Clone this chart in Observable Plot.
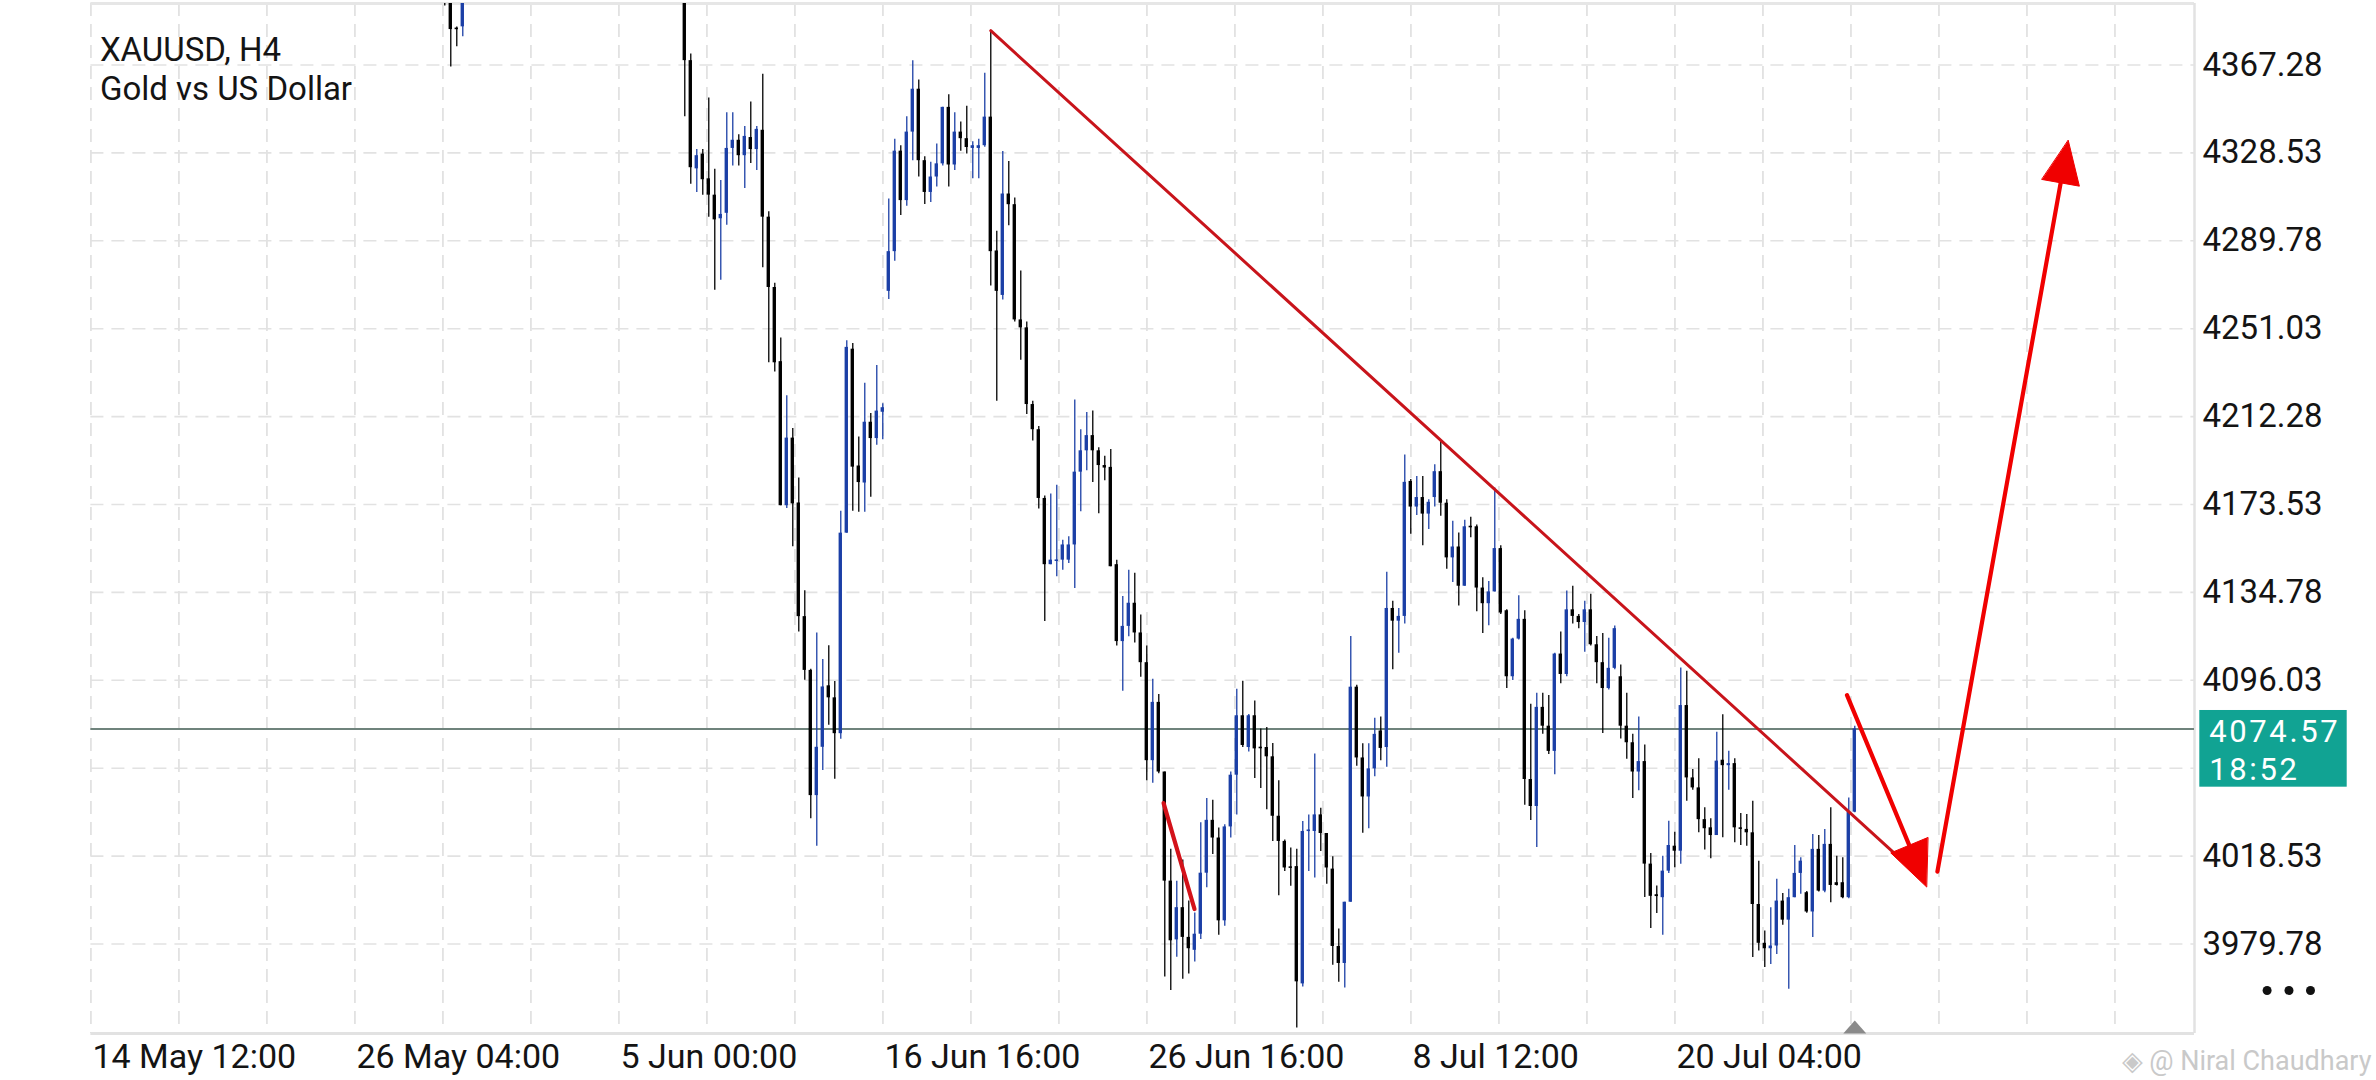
<!DOCTYPE html>
<html><head><meta charset="utf-8">
<script src="https://cdn.jsdelivr.net/npm/d3@7"></script>
<script src="https://cdn.jsdelivr.net/npm/@observablehq/plot@0.6"></script>
<style>
html,body{margin:0;padding:0;background:#fff;overflow:hidden;}
#chart svg{display:block;}
g[aria-label="price-label"] text{letter-spacing:2.2px;}
g[aria-label="time-label"] text{letter-spacing:1.6px;}
</style></head><body><div id="chart"></div>
<script>
// ---------- data ----------
const symbolTitle = "XAUUSD, H4";
const symbolName = "Gold vs US Dollar";
const firstBar = 0;
const opens = [4398,4369.2,4321.5,4328.0,4317.1,4309.9,4299.5,4301.9,4330.5,4334.1,
4327.3,4335.3,4330.0,4338.5,4300.2,4269.2,4236.5,4173.0,4202.8,4174.2,
4124.1,4100.4,4045.2,4066.5,4093.6,4088.3,4072.5,4160.9,4242.0,4190.5,
4183.0,4209.8,4202.6,4214.2,4267.5,4285.0,4329.3,4307.5,4337.7,4356.6,
4325.1,4311.1,4317.9,4323.7,4348.6,4323.2,4337.7,4334.8,4330.5,4330.5,
4331.7,4344.3,4285.3,4265.7,4310.4,4305.7,4254.9,4251.4,4217.6,4206.5,
4176.2,4147.0,4148.5,4149.0,4149.0,4155.7,4187.8,4197.2,4203.9,4197.2,
4190.7,4189.9,4147.0,4113.1,4119.8,4130.0,4116.9,4103.8,4060.6,4086.3,
4055.6,4007.5,3981.6,3995.8,3982.7,3977.0,3984.1,4011.0,4034.3,4026.5,
3990.0,4031.4,4054.2,4080.4,4066.4,4080.4,4066.4,4066.4,4062.3,4036.1,
4025.0,4013.6,4013.9,3962.2,4029.4,4029.4,4036.7,4028.5,4012.8,3978.7,
3971.2,3998.2,4093.0,4061.8,4044.6,4057.0,4073.7,4066.4,4127.7,4122.1,
4124.2,4183.7,4172.4,4176.6,4169.3,4176.6,4188.0,4174.1,4150.0,4154.8,
4137.5,4163.7,4163.7,4136.7,4129.8,4135.0,4154.1,4126.7,4097.6,4114.2,
4122.9,4052.3,4040.4,4084.1,4075.8,4064.7,4107.6,4098.6,4127.1,4124.2,
4121.5,4127.1,4111.7,4103.8,4092.4,4101.3,4097.6,4075.8,4068.5,4055.6,
4060.2,4015.0,4001.5,4000.2,4011.9,4022.9,4020.7,4084.9,4053.0,4048.6,
4034.6,4031.0,4027.6,4060.8,4058.4,4059.3,4031.0,4030.3,4028.8,3997.2,
3980.1,3977.7,3978.9,3998.7,3990.3,4000.2,4010.9,4002.4,3993.9,4021.5,
4003.1,4023.7,4006.8,4006.8,4000.2,4037.9];
const highs = [4402,4372.1,4330.0,4330.0,4352.7,4321.3,4316.4,4346.2,4346.2,4336.5,
4340.2,4351.0,4340.2,4363.2,4302.6,4271.1,4246.9,4221.5,4207.0,4185.2,
4135.5,4100.9,4116.9,4105.2,4111.3,4095.5,4170.6,4245.7,4244.5,4203.3,
4227.0,4213.7,4234.8,4217.9,4308.2,4334.6,4331.7,4344.5,4369.2,4360.7,
4326.8,4324.4,4332.4,4348.6,4354.2,4346.2,4342.1,4349.1,4333.4,4334.6,
4363.6,4382.5,4294.0,4329.1,4324.7,4308.6,4276.5,4254.0,4219.0,4207.9,
4177.3,4178.2,4182.0,4157.8,4159.3,4219.6,4206.5,4214.1,4214.7,4198.6,
4194.8,4197.8,4149.0,4133.0,4144.6,4143.2,4124.8,4111.1,4096.5,4089.8,
4055.6,4021.5,4007.5,4016.8,3998.7,3993.5,4033.2,4043.9,4043.1,4030.9,
4032.3,4055.6,4092.1,4095.6,4081.0,4086.9,4074.6,4075.2,4068.2,4051.8,
4025.6,4022.1,4021.5,4033.8,4036.7,4063.5,4039.6,4028.5,4018.2,3986.4,
3998.2,4115.3,4093.8,4068.1,4068.1,4079.3,4079.9,4143.7,4130.9,4127.7,
4195.3,4184.5,4185.9,4185.9,4175.6,4191.1,4201.9,4175.6,4166.2,4161.0,
4166.6,4167.9,4164.5,4141.2,4139.6,4180.8,4155.4,4127.1,4114.6,4133.3,
4126.7,4085.5,4090.3,4090.3,4089.3,4108.0,4117.3,4135.4,4137.5,4125.0,
4130.9,4134.0,4115.3,4116.7,4114.6,4120.0,4102.8,4090.3,4072.2,4079.9,
4067.5,4019.7,4005.4,4018.5,4033.9,4029.1,4101.5,4100.0,4056.7,4061.4,
4039.8,4035.0,4073.1,4080.9,4064.8,4061.4,4037.3,4036.9,4042.7,4016.3,
3985.5,3995.8,4008.3,4002.1,4003.9,4023.2,4017.8,4002.9,4028.1,4027.6,
4030.3,4039.8,4018.5,4017.8,4044.2,4075.8];
const lows = [4344.5,4314.7,4311.1,4309.9,4300.2,4268.0,4272.4,4296.6,4322.7,4322.7,
4312.8,4323.9,4320.8,4277.9,4236.0,4231.9,4173.0,4171.8,4154.9,4117.3,
4096.0,4035.0,4022.9,4056.3,4076.2,4052.4,4070.1,4160.9,4170.6,4170.1,
4170.1,4176.7,4199.7,4202.1,4263.9,4280.8,4300.9,4305.0,4325.1,4317.9,
4305.8,4306.7,4313.5,4322.7,4313.5,4320.8,4329.3,4328.0,4317.1,4317.1,
4331.0,4269.9,4219.0,4263.7,4296.4,4254.0,4237.1,4213.2,4201.5,4171.5,
4121.9,4147.0,4141.7,4144.6,4147.5,4136.5,4170.3,4188.4,4183.2,4169.4,
4184.0,4146.1,4111.1,4091.2,4115.2,4112.5,4097.4,4051.8,4050.7,4054.8,
3965.2,3959.3,3973.9,3964.3,3966.6,3971.9,3981.8,4004.6,4019.2,3983.6,
3987.6,4026.5,4036.7,4066.4,4064.4,4052.7,4048.3,4039.0,4025.0,4001.1,
4011.8,4005.2,3942.7,3960.8,4011.8,4008.9,4020.6,4006.1,3970.4,3962.9,
3960.4,3998.2,4058.1,4028.6,4030.6,4053.5,4060.6,4057.7,4100.7,4108.0,
4120.9,4160.4,4168.7,4155.4,4162.5,4172.4,4168.3,4145.0,4139.2,4128.8,
4137.5,4158.9,4126.3,4116.7,4120.1,4135.0,4125.0,4092.4,4095.9,4113.8,
4041.0,4034.2,4022.3,4072.2,4063.3,4054.4,4094.5,4097.6,4120.9,4118.8,
4108.4,4111.1,4094.5,4072.6,4091.8,4100.7,4070.2,4061.2,4043.9,4047.3,
4000.3,3986.6,3993.2,3983.6,4010.9,4013.4,4014.9,4042.7,4047.6,4028.8,
4021.2,4017.4,4027.6,4026.6,4047.6,4024.4,4023.2,4022.9,3973.8,3976.7,
3969.4,3970.8,3975.2,3988.0,3959.8,4000.2,4001.7,3993.3,3982.6,4002.7,
4002.4,3998.0,4005.3,3999.7,3999.7,4037.6];
const closes = [4369.2,4322.0,4327.3,4316.7,4309.9,4299.0,4301.4,4330.5,4334.1,4327.3,
4335.8,4330.0,4338.9,4300.2,4269.2,4236.0,4173.0,4202.8,4173.8,4124.1,
4100.4,4045.2,4066.5,4093.1,4088.3,4072.5,4160.9,4242.8,4190.0,4183.2,
4209.8,4202.6,4214.7,4216.2,4285.0,4329.3,4307.5,4337.7,4356.6,4325.1,
4311.1,4317.9,4323.7,4348.6,4323.2,4337.7,4334.8,4330.9,4331.7,4331.7,
4344.3,4285.0,4267.5,4310.4,4305.7,4254.9,4251.4,4217.6,4206.5,4176.2,
4147.0,4149.0,4149.0,4155.7,4155.7,4187.8,4197.2,4203.9,4197.2,4190.7,
4189.6,4146.1,4113.1,4119.8,4130.0,4116.9,4103.8,4060.6,4086.3,4055.6,
4007.5,3981.2,3995.8,3982.7,3977.7,3984.1,4011.0,4034.3,4026.5,3990.0,
4031.4,4054.2,4080.4,4067.3,4080.4,4065.8,4066.0,4062.3,4036.1,4025.0,
4013.3,4013.3,3963.1,4029.4,4030.0,4036.7,4028.5,4013.3,3978.7,3971.2,
3998.2,4093.0,4061.8,4044.6,4057.0,4072.2,4066.0,4127.7,4122.1,4124.2,
4183.3,4172.4,4176.6,4169.3,4174.5,4188.0,4174.1,4150.0,4154.8,4137.5,
4163.7,4163.5,4136.7,4129.8,4135.0,4154.1,4125.7,4097.6,4114.2,4122.9,
4052.3,4040.4,4084.1,4075.8,4064.7,4107.6,4098.6,4127.1,4124.2,4121.5,
4127.1,4111.7,4103.8,4092.4,4101.3,4118.8,4075.8,4068.5,4055.6,4060.2,
4015.0,4000.8,4000.7,4011.9,4023.2,4020.7,4084.9,4053.0,4048.6,4034.6,
4030.6,4027.6,4060.4,4058.4,4059.3,4031.0,4030.3,4028.8,3997.2,3980.1,
3977.7,3978.9,3998.7,3990.3,4000.2,4010.9,4016.3,3993.9,4021.5,4003.1,
4023.7,4005.6,4005.6,4000.2,4037.9,4074.57];
// a few bars far to the left, mostly above the visible range
const earlyFirstBar = -40;
const earlyOpens  = [4398.0, 4400.0, 4383.5, 4384.1];
const earlyHighs  = [4402.0, 4405.0, 4384.0, 4400.0];
const earlyLows   = [4393.3, 4366.4, 4375.3, 4379.7];
const earlyCloses = [4397.0, 4382.9, 4382.9, 4394.4];

const priceTicks = [3979.78,4018.53,4057.28,4096.03,4134.78,4173.53,4212.28,4251.03,4289.78,4328.53,4367.28];
const timeLabels = ["14 May 12:00","26 May 04:00","5 Jun 00:00","16 Jun 16:00","26 Jun 16:00","8 Jul 12:00","20 Jul 04:00"];
const gridStartBar = -98.98, gridStepBars = 14.667, gridCount = 24, labelEvery = 3;
const lastPrice = 4074.57, lastTime = "18:52";
const xDomain = [-98.98, 251.62];
const yDomain = [3940.33, 4394.39];

// drawn annotations (bar index, price)
const trendLine = [{bar: 51.0, price: 4382.4}, {bar: 205.1, price: 4011.4}];
const shortLine = [{bar: 79.8, price: 4041.9}, {bar: 84.95, price: 3995.2}];
const downArrow = {from: {bar: 193.7, price: 4089.5}, to: {bar: 206.95, price: 4005.0}};
const upArrow   = {from: {bar: 208.77, price: 4011.7}, to: {bar: 230.58, price: 4334.0}};
const watermark = "◈ @ Niral Chaudhary";

// ---------- build ----------
const W = 2376, H = 1080, mL = 90.4, mR = 182, mT = 3, mB = 47;
const BLUE = "#1b3fa6", BLACK = "#000000";
function mk(first, o, h, l, c) {
  return o.map((v, i) => {
    const lo = Math.min(v, c[i]), hi = Math.max(v, c[i]);
    const pad = hi - lo < 0.7 ? (0.7 - (hi - lo)) / 2 : 0;
    return {bar: first + i, open: v, high: h[i], low: l[i], close: c[i],
            bLo: lo - pad, bHi: hi + pad, up: c[i] >= v};
  });
}
const candles = mk(firstBar, opens, highs, lows, closes)
  .concat(mk(earlyFirstBar, earlyOpens, earlyHighs, earlyLows, earlyCloses));
const lastBar = firstBar + closes.length - 1;

const sx = Plot.scale({x: {domain: xDomain, range: [mL, W - mR]}});
const sy = Plot.scale({y: {domain: yDomain, range: [H - mB, mT]}});
const toData = ([px, py]) => ({bar: sx.invert(px), price: sy.invert(py)});

function arrowParts(a, len, half) {
  const x0 = sx.apply(a.from.bar), y0 = sy.apply(a.from.price);
  const x1 = sx.apply(a.to.bar), y1 = sy.apply(a.to.price);
  const d = Math.hypot(x1 - x0, y1 - y0), ux = (x1 - x0) / d, uy = (y1 - y0) / d;
  const bx = x1 - ux * len, by = y1 - uy * len;
  const head = [[x1, y1], [bx - uy * half, by + ux * half], [bx + uy * half, by - ux * half]].map(toData);
  const shaft = [[x0, y0], [x1 - ux * len * 0.6, y1 - uy * len * 0.6]].map(toData);
  return {head, shaft};
}
const dA = arrowParts(downArrow, 45, 20);
const uA = arrowParts(upArrow, 43, 19);

const mx = sx.apply(lastBar), myb = H - mB;
const marker = [[mx, myb - 13], [mx - 11.5, myb], [mx + 11.5, myb]].map(toData);

const gridBars = d3.range(gridCount).map(k => gridStartBar + k * gridStepBars);
const timeData = timeLabels.map((t, i) => ({bar: gridStartBar + i * labelEvery * gridStepBars, label: t}));
// the price tag hides the axis label that falls behind it
const shownTicks = priceTicks.filter(t => t > lastPrice + 10 || t < lastPrice - 30);

const GRID = "#e2e2e2";
const plot = Plot.plot({
  width: W, height: H,
  marginLeft: mL, marginRight: mR, marginTop: mT, marginBottom: mB,
  x: {domain: xDomain, axis: null},
  y: {domain: yDomain, axis: null},
  style: {fontFamily: "Roboto, 'Noto Sans', sans-serif", background: "#fff", color: "#141414"},
  marks: [
    Plot.ruleY(priceTicks, {stroke: GRID, strokeWidth: 1.6, strokeDasharray: "13,8"}),
    Plot.ruleX(gridBars, {stroke: GRID, strokeWidth: 1.8, strokeDasharray: "13,8"}),
    Plot.ruleY([yDomain[1]], {stroke: "#e6e6e6", strokeWidth: 3}),
    Plot.ruleY([yDomain[0]], {stroke: "#e2e2e2", strokeWidth: 3}),
    Plot.ruleX([xDomain[1]], {stroke: "#e2e2e2", strokeWidth: 2.5}),
    Plot.ruleY([lastPrice], {stroke: "#6f837c", strokeWidth: 2.2}),
    Plot.ruleX(candles.filter(d => d.up), {x: "bar", y1: "low", y2: "high", stroke: BLUE, strokeWidth: 1.3, clip: true}),
    Plot.ruleX(candles.filter(d => !d.up), {x: "bar", y1: "low", y2: "high", stroke: BLACK, strokeWidth: 1.3, clip: true}),
    Plot.rect(candles.filter(d => d.up), {x1: d => d.bar - 0.28, x2: d => d.bar + 0.28, y1: "bLo", y2: "bHi", fill: BLUE, clip: true}),
    Plot.rect(candles.filter(d => !d.up), {x1: d => d.bar - 0.28, x2: d => d.bar + 0.28, y1: "bLo", y2: "bHi", fill: BLACK, clip: true}),
    Plot.line(trendLine, {x: "bar", y: "price", stroke: "#c8141b", strokeWidth: 3}),
    Plot.line(shortLine, {x: "bar", y: "price", stroke: "#d3121a", strokeWidth: 4.2}),
    Plot.line(dA.shaft, {x: "bar", y: "price", stroke: "#f00000", strokeWidth: 4.2}),
    Plot.line(dA.head, {x: "bar", y: "price", fill: "#f00000", stroke: "#f00000", strokeWidth: 1, curve: "linear-closed"}),
    Plot.line(uA.shaft, {x: "bar", y: "price", stroke: "#f00000", strokeWidth: 4.2}),
    Plot.line(uA.head, {x: "bar", y: "price", fill: "#f00000", stroke: "#f00000", strokeWidth: 1, curve: "linear-closed"}),
    Plot.line(marker, {x: "bar", y: "price", fill: "#8a8a8a", stroke: "none", curve: "linear-closed"}),
    Plot.text(shownTicks, {y: d => d, text: d => d.toFixed(2), frameAnchor: "right", textAnchor: "start", lineAnchor: "middle", dx: 8, fontSize: 33, fill: "#141414", ariaLabel: "price-label"}),
    Plot.text(timeData, {x: "bar", text: "label", frameAnchor: "bottom", textAnchor: "start", lineAnchor: "bottom", dx: 1.5, dy: 34, fontSize: 34, fill: "#141414", ariaLabel: "time-label"}),
    Plot.text([symbolTitle + "\n" + symbolName], {frameAnchor: "top-left", textAnchor: "start", lineAnchor: "top", dx: 9, dy: 30.3, fontSize: 33, lineHeight: 1.18, fill: "#141414"}),
    Plot.text([watermark], {frameAnchor: "bottom-right", textAnchor: "start", lineAnchor: "bottom", dx: -73, dy: 36, fontSize: 27, fill: "#c9c9c9"}),
    Plot.dot([0], {frameAnchor: "bottom-right", dx: 72.6, dy: -43, r: 4.5, fill: "#111", stroke: "none"}),
    Plot.dot([0], {frameAnchor: "bottom-right", dx: 94.5, dy: -43, r: 4.5, fill: "#111", stroke: "none"}),
    Plot.dot([0], {frameAnchor: "bottom-right", dx: 116, dy: -43, r: 4.5, fill: "#111", stroke: "none"})
  ]
});

// current price tag, positioned with the plot's own y scale
const svg = d3.select(plot);
const yLast = plot.scale("y").apply(lastPrice);
const xEdge = W - mR;
const tag = svg.append("g").attr("aria-label", "price-tag")
  .attr("text-anchor", "start").attr("font-family", "Roboto, 'Noto Sans', sans-serif");
tag.append("rect").attr("x", xEdge + 5.3).attr("y", yLast - 18.5).attr("width", 147.4).attr("height", 76.7).attr("fill", "#11a393");
tag.append("text").attr("x", xEdge + 15.3).attr("y", yLast + 13.2).attr("fill", "#fff")
  .attr("font-size", 31).attr("text-anchor", "start").style("letter-spacing", "2.6px").text(lastPrice.toFixed(2));
tag.append("text").attr("x", xEdge + 15.3).attr("y", yLast + 51.5).attr("fill", "#fff")
  .attr("font-size", 31).attr("text-anchor", "start").style("letter-spacing", "2.6px").text(lastTime);

document.getElementById("chart").appendChild(plot);
</script>
</body></html>
